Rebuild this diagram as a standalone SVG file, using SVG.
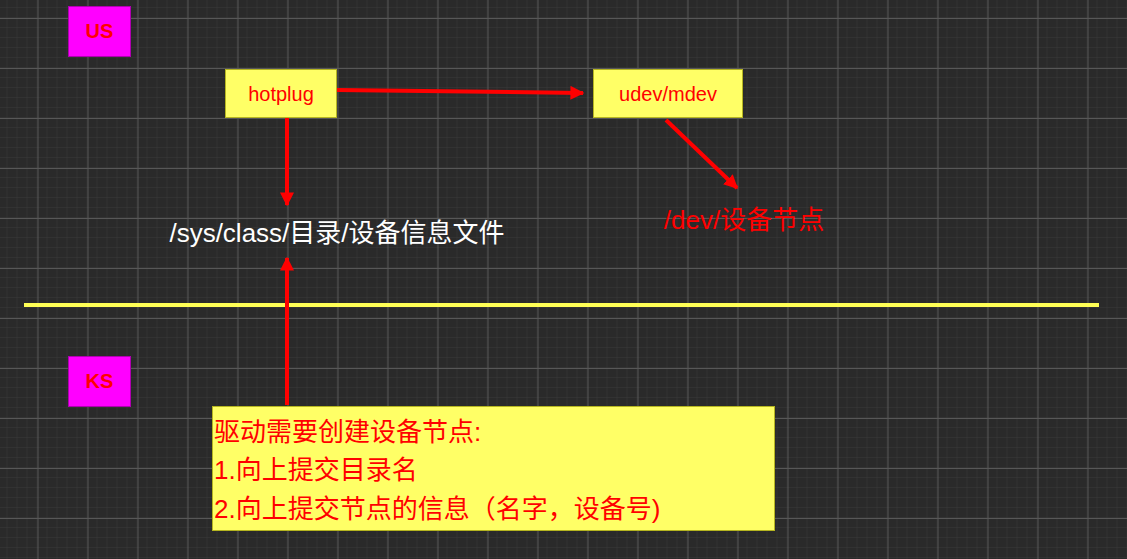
<svg xmlns="http://www.w3.org/2000/svg" width="1127" height="559" viewBox="0 0 1127 559">
<defs>
<pattern id="minor" x="7.5" y="8" width="10" height="10" patternUnits="userSpaceOnUse"><path d="M10 0V10M0 10H10" fill="none" stroke="#3a3a3a" stroke-width="1"/></pattern>
<pattern id="major" x="37.5" y="18" width="50" height="50" patternUnits="userSpaceOnUse"><path d="M0.5 0V50M0 0.5H50" fill="none" stroke="#575757" stroke-width="1"/></pattern>
<marker id="ah" viewBox="0 0 10 10" refX="9" refY="5" markerWidth="3.5" markerHeight="3.5" orient="auto" markerUnits="strokeWidth"><path d="M0 0L10 5L0 10z" fill="#ff0000"/></marker>
</defs>
<style>
.box{fill:#ffff66;stroke:#b5b520;stroke-width:1}
.tag{fill:#ff00ff;stroke:#b000b0;stroke-width:1}
.t{font-family:"Liberation Sans","Noto Sans CJK SC",sans-serif;fill:#ff0000}
.c{stroke:#ff0000;stroke-width:4;fill:none;marker-end:url(#ah)}
</style>
<rect width="1127" height="559" fill="#2a2a2a"/>
<rect width="1127" height="559" fill="url(#minor)"/>
<rect width="1127" height="559" fill="url(#major)"/>
<line x1="24" y1="305" x2="1099" y2="305" stroke="#ffff55" stroke-width="4"/>
<g id="us"><rect class="tag" x="68.5" y="6.5" width="62" height="50"/><text class="t" x="99.5" y="38" font-size="20" font-weight="bold" text-anchor="middle">US</text></g>
<g id="ks"><rect class="tag" x="68.5" y="356.5" width="62" height="50"/><text class="t" x="99.5" y="388" font-size="20" font-weight="bold" text-anchor="middle">KS</text></g>
<g id="hotplug"><rect class="box" x="225.5" y="69.5" width="111" height="48"/><text class="t" x="281" y="101" font-size="20" text-anchor="middle">hotplug</text></g>
<g id="udev"><rect class="box" x="593.5" y="69.5" width="149" height="48"/><text class="t" x="668" y="101" font-size="20" text-anchor="middle">udev/mdev</text></g>
<g id="sysclass"><text x="337" y="242" font-size="26" text-anchor="middle" fill="#ffffff" font-family="Liberation Sans,Noto Sans CJK SC,sans-serif">/sys/class/目录/设备信息文件</text></g>
<g id="devnode"><text class="t" x="744" y="229" font-size="26" text-anchor="middle">/dev/设备节点</text></g>
<g id="note"><rect class="box" x="212.5" y="406.5" width="562" height="124"/>
<text class="t" font-size="26"><tspan x="214" y="441">驱动需要创建设备节点:</tspan><tspan x="214" y="479">1.向上提交目录名</tspan><tspan x="214" y="518">2.向上提交节点的信息（名字，设备号)</tspan></text></g>
<g id="connectors">
<path class="c" d="M337 90L583 93"/>
<path class="c" d="M287 118V205"/>
<path class="c" d="M287 405V258"/>
<path class="c" d="M666 120L737 188"/>
</g>
</svg>
